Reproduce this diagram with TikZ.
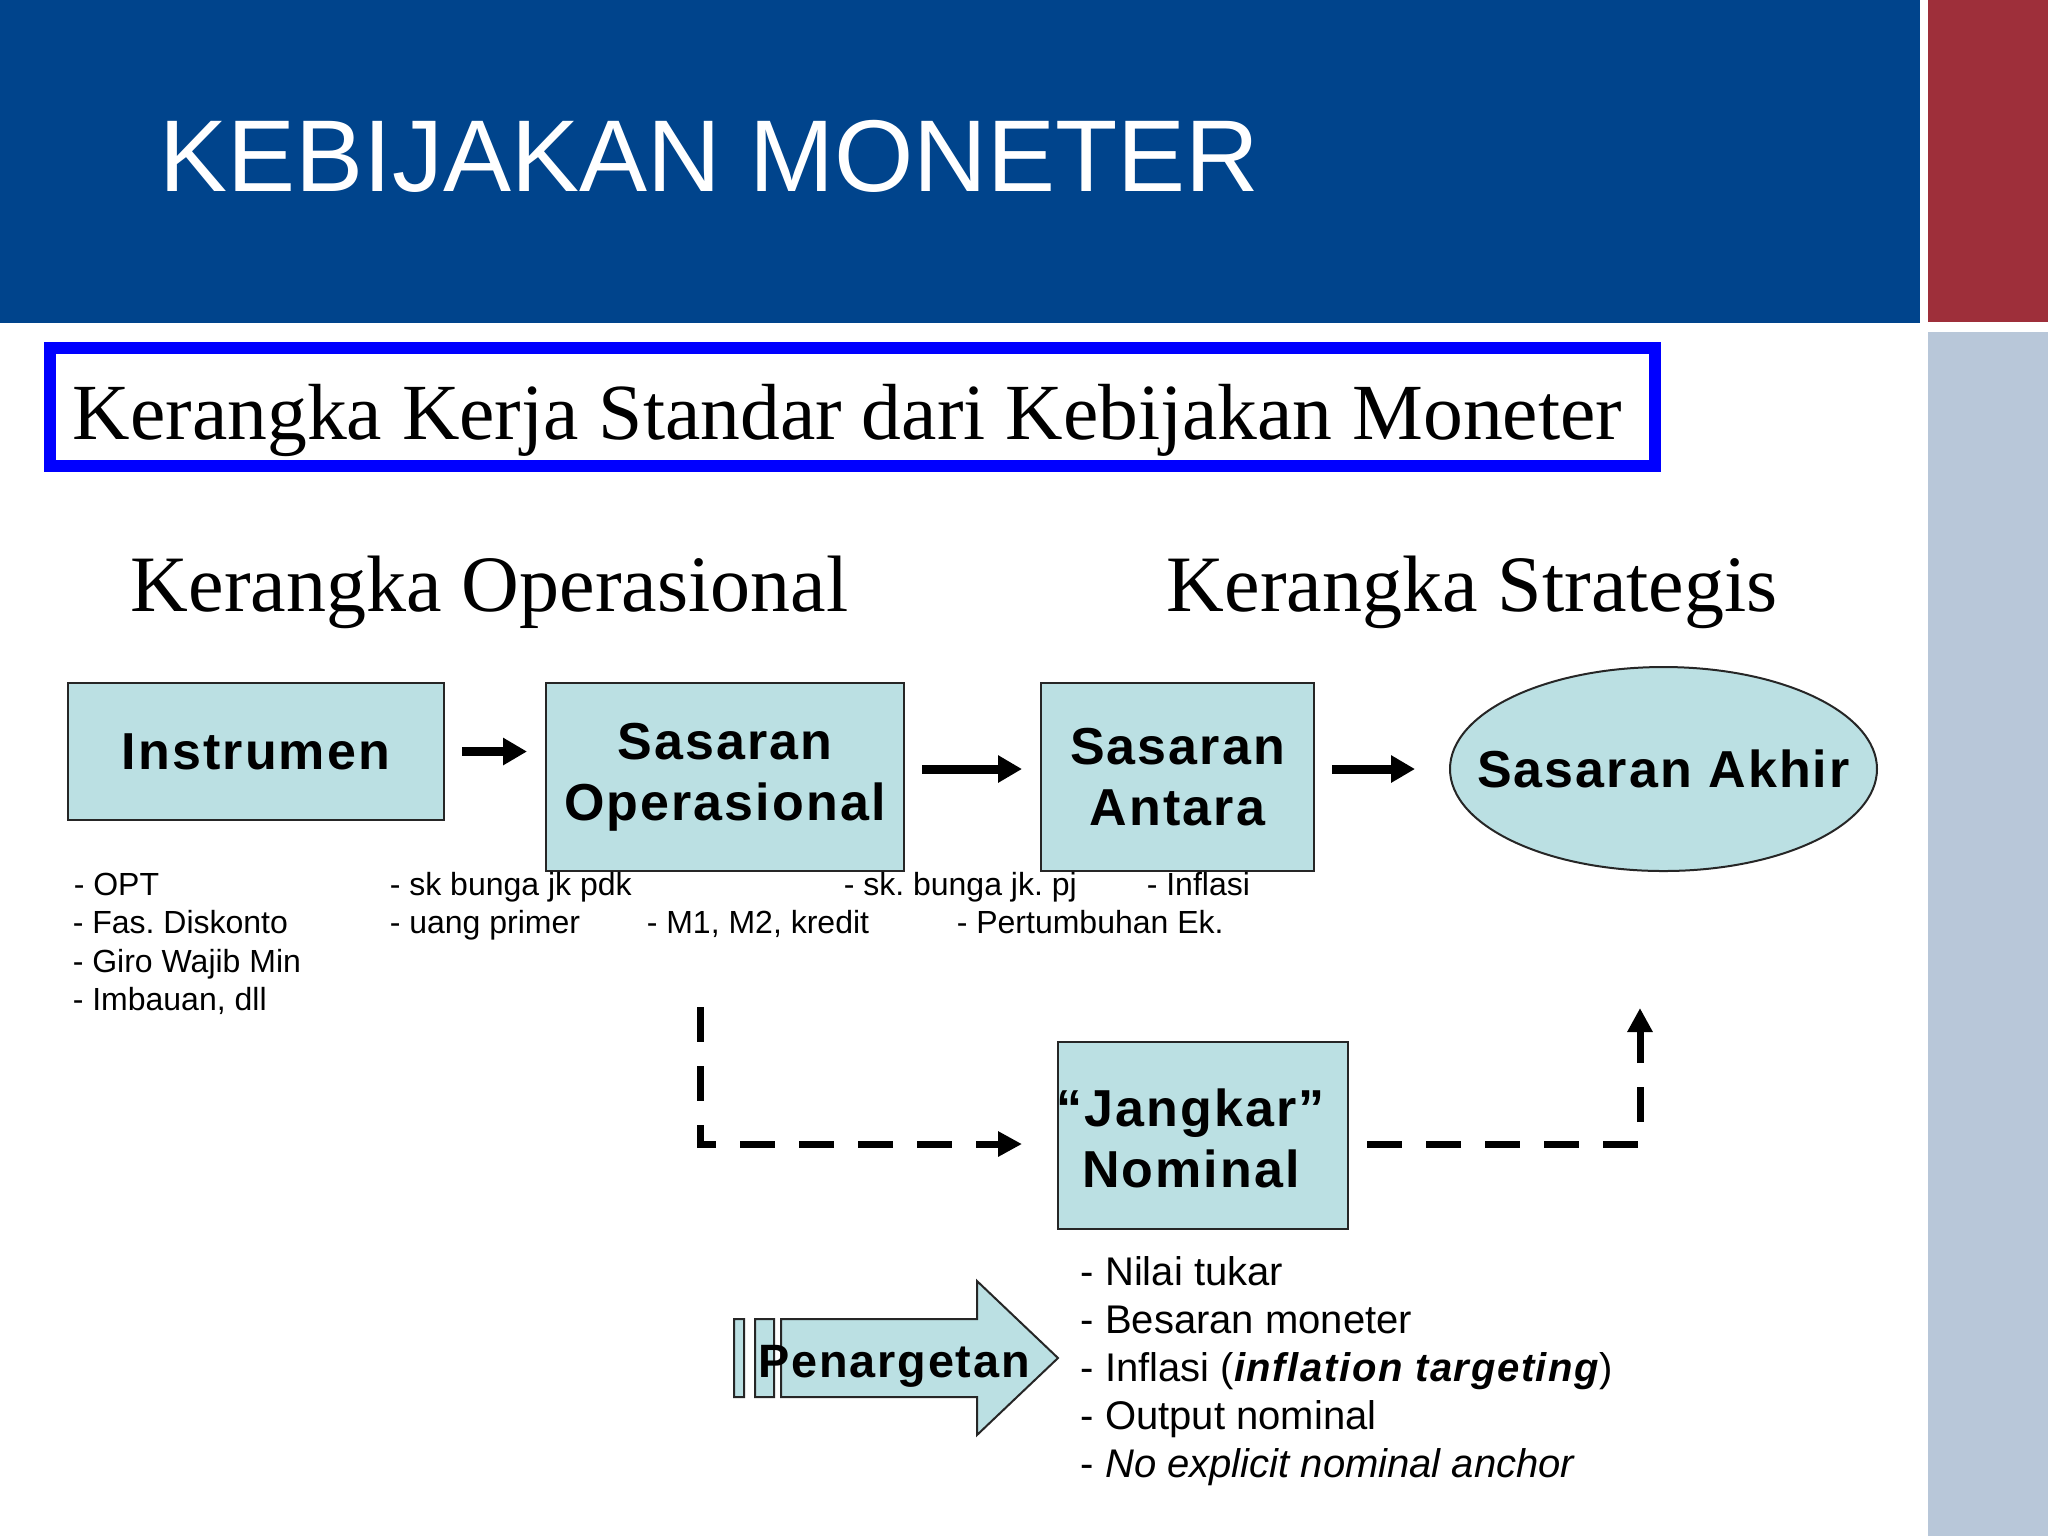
\documentclass[tikz,border=0pt]{standalone}
\usepackage{fontspec}
\setmainfont{Liberation Serif}
\newfontfamily\arialfont{Liberation Sans}
\newfontfamily\boxfont[LetterSpace=4]{Liberation Sans}
\usetikzlibrary{arrows.meta, shapes.geometric}

\definecolor{hdrblue}{RGB}{0,68,140}
\definecolor{hdrred}{RGB}{158,47,58}
\definecolor{sidegrey}{RGB}{184,199,217}
\definecolor{boxcyan}{RGB}{187,224,227}
\definecolor{frameblue}{RGB}{0,0,255}

\frenchspacing

\begin{document}
\begin{tikzpicture}[x = 0.25pt, y = -0.25pt, % one unit = one pixel, y down
                box/.style = {draw = black!85, fill = boxcyan, line width = 0.5pt,
                    inner sep = 0pt, align = center,
                    font = \boxfont\bfseries\fontsize{13}{15.25}\selectfont},
                boxtext/.style = {inner sep = 0pt, align = center,
                    font = \boxfont\bfseries\fontsize{13}{15.25}\selectfont},
                heading/.style = {anchor = base west, inner sep = 0pt,
                    font = \fontsize{20}{24}\selectfont},
                smalllist/.style = {anchor = base west, inner sep = 0pt,
                    font = \arialfont\fontsize{8}{9.6}\selectfont},
                biglist/.style = {anchor = base west, inner sep = 0pt,
                    font = \arialfont\fontsize{10}{12}\selectfont},
                thickarrow/.style = {line width = 2.25pt,
                    -{Triangle[length = 6pt, width = 6.5pt]}},
                dasharrow/.style = {line width = 1.75pt,
                    dash pattern = on 8.75pt off 6pt,
                    -{Triangle[length = 6pt, width = 6pt]}}
            ]

            % page and background bands
            \useasboundingbox (0,0) rectangle (2048,1536);
            \fill[white] (0,0) rectangle (2048,1536);
            \fill[hdrblue] (0,0) rectangle (1920,323);
            \fill[hdrred] (1928,0) rectangle (2048,322);
            \fill[sidegrey] (1928,332) rectangle (2048,1536);

            \node (title) [anchor = base west, inner sep = 0pt, text = white,
            font = \arialfont\fontsize{25.5}{30}\selectfont] at (159,191)
            {KEBIJAKAN MONETER};

            \draw[frameblue, line width = 3pt] (50,348) rectangle (1655,466);
            \node (sub) [heading, font = \fontsize{19.9}{24}\selectfont] at (72,439)
            {Kerangka Kerja Standar dari Kebijakan Moneter};

            \node (op) [heading] at (130,611) {Kerangka Operasional};
            \node (st) [heading] at (1166,611) {Kerangka Strategis};

            % the chain
            \node (inst) [box, minimum width = 94pt, minimum height = 34.25pt]
            at (256,751.5) {Instrumen};
            \node (sasop) [box, minimum width = 89.5pt, minimum height = 47pt]
            at (725,777) {Sasaran\\Operasional};
            \node (antara) [box, minimum width = 68.25pt, minimum height = 47pt]
            at (1177.5,777) {Sasaran\\Antara};
            \node (akhir) [box, ellipse, minimum width = 106.75pt,
            minimum height = 51pt] at (1663.5,769) {};
            \node (akhirtxt) [boxtext] at (akhir) {Sasaran Akhir};
            \node (jangkar) [box, minimum width = 72.5pt, minimum height = 46.75pt]
            at (1203,1135.5) {};
            \node (jangkartxt) [boxtext] at (1191,1138) {“Jangkar”\\Nominal};

            \draw[thickarrow, shorten <= 4.25pt, shorten >= 4.5pt]
            (inst.east) -- (sasop.west |- inst.east);
            \draw[thickarrow, shorten <= 4.25pt, shorten >= 4.5pt]
            (sasop.east |- akhir) -- (antara.west |- akhir);
            \draw[thickarrow, shorten <= 4.25pt, shorten >= 8.5pt]
            (antara.east |- akhir) -- (akhir.west);

            % lists under the chain
            \node (l1) [smalllist] at (73,895) {- OPT};
            \node (l2) [smalllist] at (72,933) {- Fas. Diskonto};
            \node (l3) [smalllist] at (72,972) {- Giro Wajib Min};
            \node (l4) [smalllist] at (72,1010) {- Imbauan, dll};
            \node (o1) [smalllist] at (389,895) {- sk bunga jk pdk};
            \node (o2) [smalllist] at (389,933) {- uang primer};
            \node (a1) [smalllist] at (843,895) {- sk. bunga jk. pj};
            \node (a2) [smalllist] at (646,933) {- M1, M2, kredit};
            \node (k1) [smalllist] at (1146,895) {- Inflasi};
            \node (k2) [smalllist] at (956,933) {- Pertumbuhan Ek.};

            % dashed path through the anchor
            \coordinate (dstart) at (700,1007);
            \coordinate (dend) at (1640,1008);
            \draw[dasharrow, shorten >= 8.75pt]
            (dstart) |- ([yshift = -2.125pt]jangkar.west);
            \draw[dasharrow, shorten <= 4.5pt]
            ([yshift = -2.125pt]jangkar.east) -| (dend);

            % block arrow
            \filldraw[fill = boxcyan, draw = black!85, line width = 0.5pt]
            (734,1319) rectangle (744,1397)
            (755,1319) rectangle (774,1397)
            (781,1319) -- (977,1319) -- (977,1281) -- (1058,1358)
            -- (977,1435) -- (977,1397) -- (781,1397) -- cycle;
            \node (target) [boxtext, anchor = base,
            font = \boxfont\bfseries\fontsize{11.7}{14}\selectfont]
            at (894,1377) {Penargetan};

            \node (n1) [biglist] at (1080,1285) {- Nilai tukar};
            \node (n2) [biglist] at (1080,1333) {- Besaran moneter};
            \node (n3) [biglist] at (1080,1381)
            {- Inflasi ({\boxfont\bfseries\itshape inflation targeting})};
            \node (n4) [biglist] at (1080,1429) {- Output nominal};
            \node (n5) [biglist] at (1080,1477) {- \textit{No explicit nominal anchor}};
\end{tikzpicture}
\end{document}
